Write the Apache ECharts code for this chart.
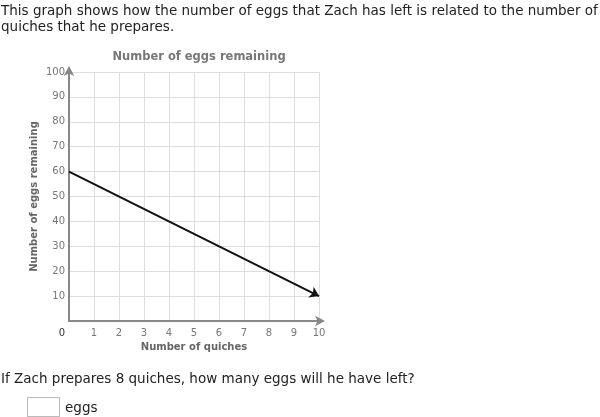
<!DOCTYPE html>
<html>
<head>
<meta charset="utf-8">
<script src="https://cdn.jsdelivr.net/npm/echarts@6/dist/echarts.min.js"></script>
<style>
  html, body { margin: 0; padding: 0; background: #fff; }
  #wrap { position: relative; width: 600px; height: 417px; overflow: hidden; font-family: "DejaVu Sans", Verdana, sans-serif; color: #222; }
  #chart { position: absolute; left: 0; top: 0; width: 600px; height: 417px; }
  .txt { position: absolute; font-size: 13.5px; line-height: 16px; white-space: nowrap; }
  #box { position: absolute; left: 27px; top: 397px; width: 31px; height: 18px; border: 1px solid #bbb; background: #fff; }
</style>
</head>
<body>
<div id="wrap">
  <div id="chart"></div>
  <div class="txt" style="left:1px; top:2px;">This graph shows how the number of eggs that Zach has left is related to the number of<br>quiches that he prepares.</div>
  <div class="txt" style="left:1px; top:370px;">If Zach prepares 8 quiches, how many eggs will he have left?</div>
  <div id="box"></div>
  <div class="txt" style="left:65px; top:399px;">eggs</div>
</div>
<script>
// 数据
const quiches = [0, 10]
const eggs = [60, 10]
const xTicks = [0, 1, 2, 3, 4, 5, 6, 7, 8, 9, 10]
const yTicks = [10, 20, 30, 40, 50, 60, 70, 80, 90, 100]

const chart = echarts.init(document.getElementById('chart'))

const option = {
  animation: false,
  textStyle: { fontFamily: 'DejaVu Sans' },
  title: {
    text: 'Number of eggs remaining',
    left: 194,
    top: 46,
    textAlign: 'center',
    textStyle: { fontSize: 11.5, fontWeight: 'bold', color: '#777' }
  },
  grid: { left: 69, right: 281, top: 72, bottom: 96 },
  xAxis: {
    type: 'value',
    min: 0,
    max: 10,
    interval: 1,
    name: 'Number of quiches',
    nameLocation: 'middle',
    nameGap: 21,
    nameTextStyle: { fontSize: 10, fontWeight: 'bold', color: '#666' },
    axisLine: {
      lineStyle: { color: '#888', width: 2 },
      symbol: ['none', 'arrow'],
      symbolSize: [8, 10],
      symbolOffset: [0, 6]
    },
    axisTick: { show: false },
    splitLine: { lineStyle: { color: '#ddd' } },
    axisLabel: {
      margin: 7,
      fontSize: 10,
      color: '#777',
      formatter: v => (xTicks.includes(v) ? (v === 0 ? '{z|0}' : String(v)) : ''),
      rich: { z: { color: '#333', fontSize: 10, padding: [0, 14, 0, 0] } }
    }
  },
  yAxis: {
    type: 'value',
    min: 0,
    max: 100,
    interval: 10,
    name: 'Number of eggs remaining',
    nameLocation: 'middle',
    nameGap: 30,
    nameTextStyle: { fontSize: 10, fontWeight: 'bold', color: '#666' },
    axisLine: {
      show: true,
      lineStyle: { color: '#888', width: 2 },
      symbol: ['none', 'arrow'],
      symbolSize: [8, 10],
      symbolOffset: [0, 6]
    },
    axisTick: { show: false },
    splitLine: { lineStyle: { color: '#ddd' } },
    axisLabel: {
      margin: 4,
      fontSize: 10,
      color: '#777',
      formatter: v => (yTicks.includes(v) ? String(v) : '')
    }
  },
  series: [
    {
      type: 'lines',
      coordinateSystem: 'cartesian2d',
      symbol: ['none', 'arrow'],
      symbolSize: 9,
      lineStyle: { color: '#111', width: 2, opacity: 1 },
      data: [{ coords: quiches.map((q, i) => [q, eggs[i]]) }]
    }
  ]
}

chart.setOption(option)
</script>
</body>
</html>
